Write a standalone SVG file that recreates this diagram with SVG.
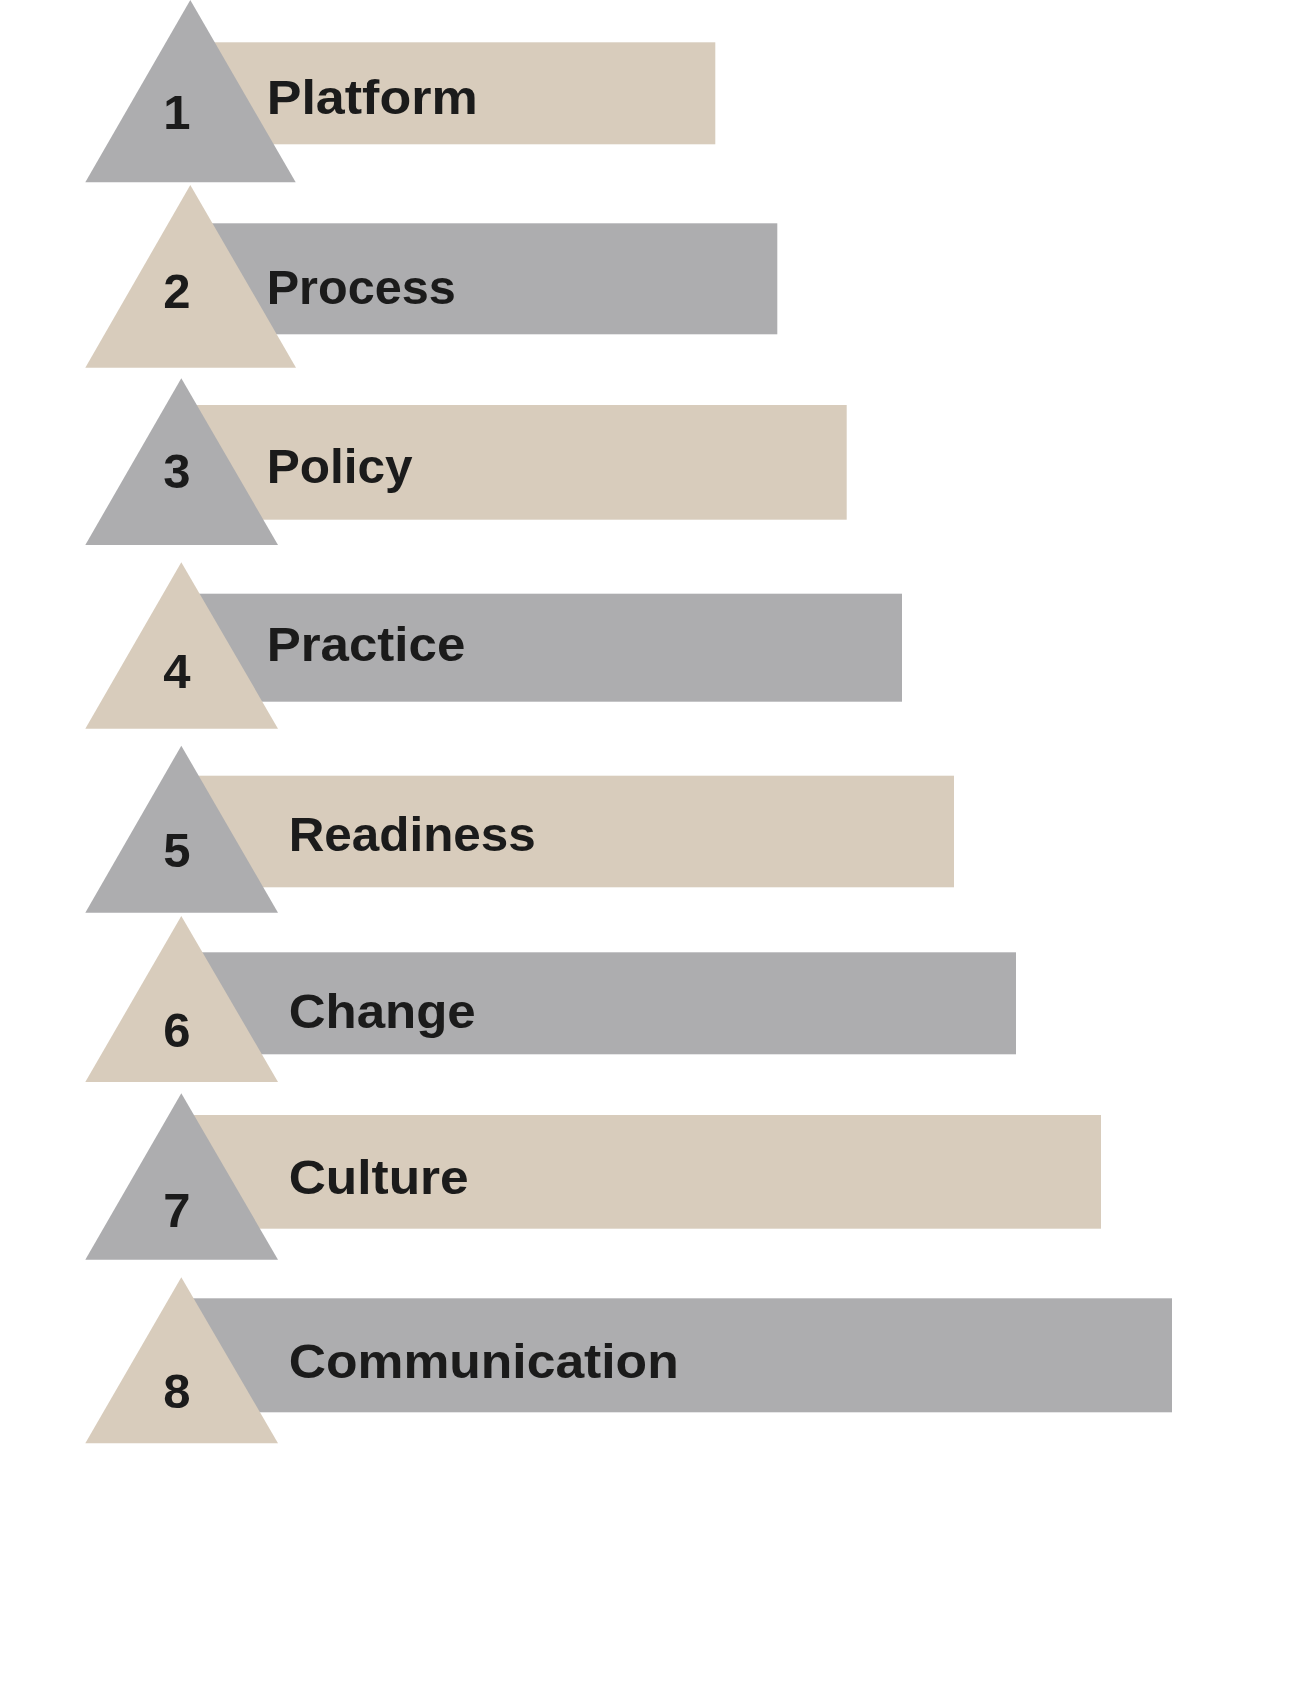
<svg xmlns="http://www.w3.org/2000/svg" width="1300" height="1700" viewBox="0 0 1300 1700">
<style>
.gray{fill:#ADADAF}
.beige{fill:#D8CCBC}
.lbl{font-family:"Liberation Sans",Arial,sans-serif;font-weight:700;font-size:49px;fill:#1B1B1B}
.num{font-family:"Liberation Sans",Arial,sans-serif;font-weight:700;font-size:49px;fill:#1B1B1B;text-anchor:middle}
</style>
<rect width="1300" height="1700" fill="#FFFFFF"/>
<g id="connectors"></g>
<g id="node1">
<rect class="beige" x="190" y="42.3" width="525.3" height="102"/>
<polygon class="gray" points="190.3,0 85.3,182.3 295.7,182.3"/>
<text class="num" x="177" y="129.3">1</text>
<text class="lbl" x="266.7" y="114.3" textLength="211" lengthAdjust="spacingAndGlyphs">Platform</text>
</g>
<g id="node2">
<rect class="gray" x="190" y="223.3" width="587.3" height="111"/>
<polygon class="beige" points="190.3,185 85.3,367.7 296,367.7"/>
<text class="num" x="177" y="308.3">2</text>
<text class="lbl" x="266.7" y="304" textLength="189" lengthAdjust="spacingAndGlyphs">Process</text>
</g>
<g id="node3">
<rect class="beige" x="180" y="405" width="666.7" height="114.7"/>
<polygon class="gray" points="181.3,378.3 85.3,545 278,545"/>
<text class="num" x="177" y="487.7">3</text>
<text class="lbl" x="266.7" y="482.7" textLength="146" lengthAdjust="spacingAndGlyphs">Policy</text>
</g>
<g id="node4">
<rect class="gray" x="180" y="593.7" width="722" height="108"/>
<polygon class="beige" points="181.3,562.3 85.3,728.7 278,728.7"/>
<text class="num" x="177" y="688.3">4</text>
<text class="lbl" x="266.7" y="661" textLength="198.6" lengthAdjust="spacingAndGlyphs">Practice</text>
</g>
<g id="node5">
<rect class="beige" x="180" y="775.7" width="774" height="111.6"/>
<polygon class="gray" points="181.3,745.7 85.3,912.7 278,912.7"/>
<text class="num" x="177" y="867.3">5</text>
<text class="lbl" x="288.7" y="851" textLength="247" lengthAdjust="spacingAndGlyphs">Readiness</text>
</g>
<g id="node6">
<rect class="gray" x="180" y="952.3" width="836" height="102"/>
<polygon class="beige" points="181.3,916 85.3,1082 278,1082"/>
<text class="num" x="177" y="1046.7">6</text>
<text class="lbl" x="288.7" y="1028.3" textLength="187" lengthAdjust="spacingAndGlyphs">Change</text>
</g>
<g id="node7">
<rect class="beige" x="180" y="1115" width="921" height="113.7"/>
<polygon class="gray" points="181.3,1093.3 85.3,1259.7 278,1259.7"/>
<text class="num" x="177" y="1226.7">7</text>
<text class="lbl" x="288.7" y="1194.3" textLength="180" lengthAdjust="spacingAndGlyphs">Culture</text>
</g>
<g id="node8">
<rect class="gray" x="180" y="1298.3" width="992" height="114"/>
<polygon class="beige" points="181.3,1277.3 85.3,1443.3 278,1443.3"/>
<text class="num" x="177" y="1408.3">8</text>
<text class="lbl" x="288.7" y="1378.3" textLength="390" lengthAdjust="spacingAndGlyphs">Communication</text>
</g>
</svg>
